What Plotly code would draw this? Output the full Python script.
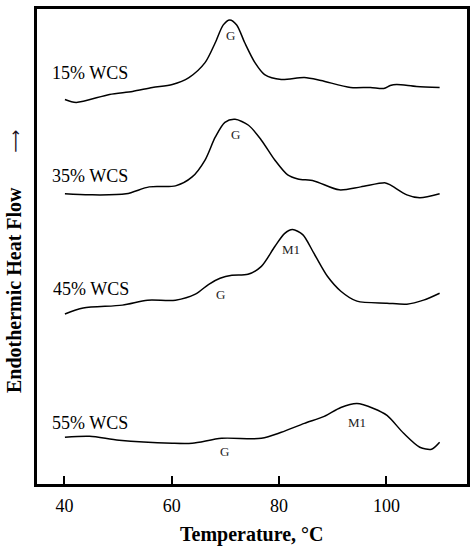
import plotly.graph_objects as go

# DSC thermograms, heat flow in arbitrary units (curves offset vertically)
temp_15 = [40.1, 42.2, 48.4, 52.7, 56.4, 60.1, 63.2, 66.2, 68.1, 69.6, 70.8, 72.1, 73.6,
           75.5, 77.3, 80.4, 84.7, 87.8, 93.3, 97.0, 99.5, 100.7, 101.9, 105.6, 109.9]
flow_15 = [387, 384, 392, 395, 399, 402, 409, 424, 444, 462, 467, 462, 444,
           424, 412, 407, 409, 406, 399, 399, 398, 401, 402, 400, 399]

temp_35 = [40.1, 44.7, 51.5, 55.8, 60.7, 63.8, 66.2, 68.1, 69.9, 71.8, 74.3, 76.7,
           79.2, 81.6, 83.5, 86.5, 91.2, 95.2, 99.8, 100.7, 103.8, 106.2, 109.9]
flow_35 = [292, 291, 292, 299, 300, 309, 326, 349, 364, 367, 361, 346,
           326, 311, 307, 305, 296, 299, 303, 301, 291, 288, 292]

temp_45 = [40.1, 43.5, 50.8, 55.5, 60.7, 64.4, 66.9, 69.0, 71.2, 74.2, 76.7, 79.2,
           81.0, 82.5, 84.4, 86.5, 89.0, 91.5, 94.5, 100.1, 103.8, 106.9, 109.9]
flow_45 = [171, 177, 180, 185, 185, 191, 201, 207, 210, 211, 219, 239,
           252, 256, 251, 232, 209, 194, 184, 182, 181, 185, 192]

temp_55 = [40.1, 44.7, 50.2, 60.1, 63.8, 69.3, 76.7, 80.4, 84.7, 88.4, 91.5, 94.5,
           97.6, 100.1, 103.2, 106.2, 108.4, 109.9]
flow_55 = [47, 48, 44, 41, 41, 46, 46, 52, 61, 68, 77, 81,
           76, 69, 51, 37, 35, 42]

curve_names = ["15% WCS", "35% WCS", "45% WCS", "55% WCS"]
label_temp = [37.4, 37.4, 37.6, 37.4]
label_flow = [414, 310, 196, 61]

peak_text = ["G", "G", "M1", "G", "M1", "G"]
peak_temp = [70.9, 71.8, 82.3, 69.0, 94.6, 69.9]
peak_flow = [451, 352, 236, 191, 62, 33]

x_ticks = [40, 60, 80, 100]

SERIF = "Liberation Serif, Times New Roman, serif"

fig = go.Figure()
for t, f, name in zip([temp_15, temp_35, temp_45, temp_55],
                      [flow_15, flow_35, flow_45, flow_55], curve_names):
    fig.add_trace(go.Scatter(
        x=t, y=f, mode="lines", name=name,
        line=dict(color="black", width=1.5, shape="spline", smoothing=0.8),
    ))

for name, x, y in zip(curve_names, label_temp, label_flow):
    fig.add_annotation(x=x, y=y, text=name, showarrow=False, xanchor="left",
                       yanchor="middle", font=dict(family=SERIF, size=18, color="black"))

for txt, x, y in zip(peak_text, peak_temp, peak_flow):
    fig.add_annotation(x=x, y=y, text=txt, showarrow=False,
                       font=dict(family=SERIF, size=13, color="#222"))

# axis titles
fig.add_annotation(xref="paper", yref="paper", x=0.5, y=-0.107,
                   text="<b>Temperature, °C</b>", showarrow=False,
                   xanchor="center", yanchor="middle",
                   font=dict(family=SERIF, size=20, color="black"))
fig.add_annotation(xref="paper", y=195, x=-0.054,
                   text="<b>Endothermic Heat Flow</b>", textangle=-90,
                   showarrow=False, xanchor="center", yanchor="middle",
                   font=dict(family=SERIF, size=20, color="black"))
fig.add_annotation(xref="paper", y=345, x=-0.05,
                   text="⟶", textangle=-90,
                   showarrow=False, xanchor="center", yanchor="middle",
                   font=dict(family="DejaVu Sans", size=16, color="#1a0d1a"))

fig.update_layout(
    width=476, height=550,
    margin=dict(l=37, r=6, t=6, b=66),
    plot_bgcolor="white", paper_bgcolor="white",
    showlegend=False,
)
fig.update_xaxes(
    range=[34.9, 115], tickvals=x_ticks, ticks="inside", ticklen=8,
    tickcolor="black", tickwidth=1.5, showgrid=False, zeroline=False,
    showline=True, linecolor="black", linewidth=2.5, mirror=True,
    tickfont=dict(family=SERIF, size=18, color="black"), ticklabelstandoff=4,
)
fig.update_yaxes(
    range=[0, 478], showticklabels=False, ticks="", showgrid=False,
    zeroline=False, showline=True, linecolor="black", linewidth=2.5, mirror=True,
)

fig.write_html(
    "out.html",
    config={"displayModeBar": False},
    post_script="document.body.style.margin='0';document.body.style.overflow='hidden';",
)
